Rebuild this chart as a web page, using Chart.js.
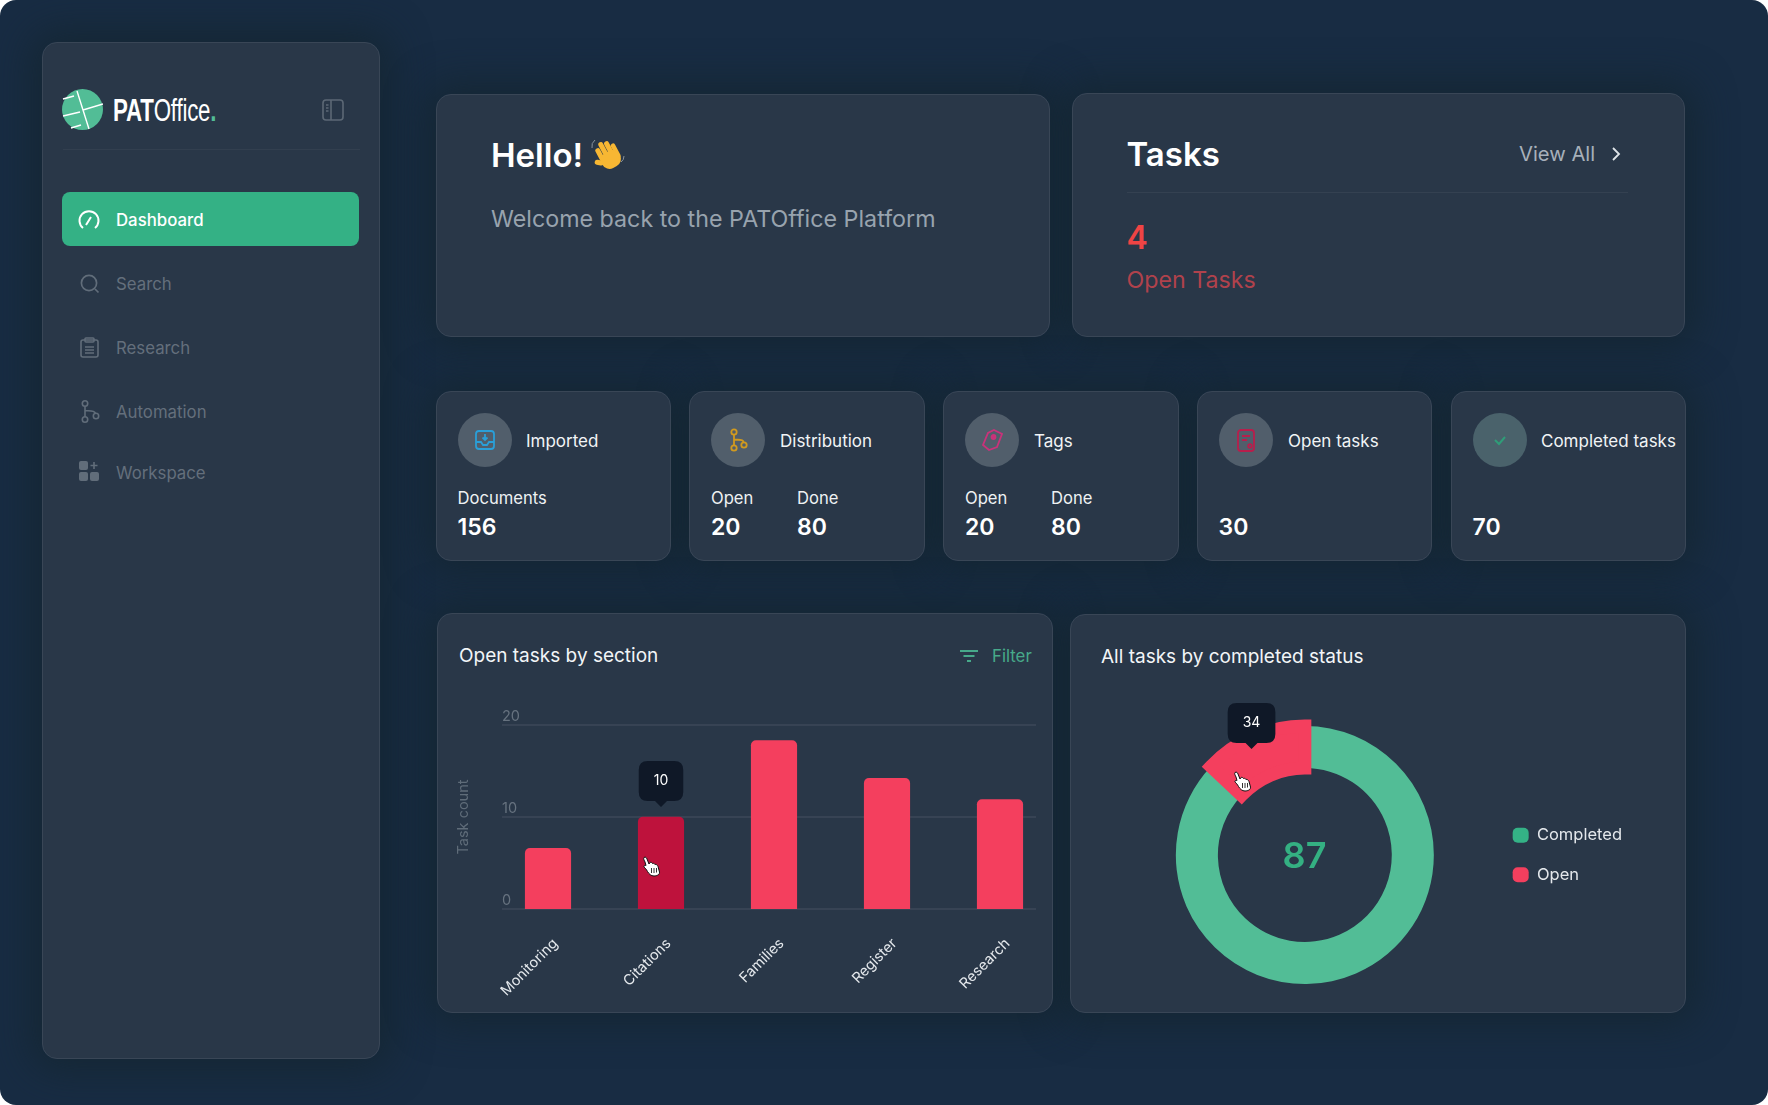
<!DOCTYPE html>
<html>
<head>
<meta charset="utf-8">
<title>PATOffice</title>
<script src="https://cdn.jsdelivr.net/npm/chart.js@4/dist/chart.umd.min.js"></script>
<style>
html,body{margin:0;padding:0;background:#fff;width:1768px;height:1105px;overflow:hidden}
body{font-family:Inter,"Noto Sans",sans-serif;color:#fff}
#page{position:absolute;left:0;top:0;width:1768px;height:1105px;background:#182c43;border-radius:16px;overflow:hidden}
.card{position:absolute;box-sizing:border-box;background:#293748;border:1px solid #394656;border-radius:15px}
.shade{position:absolute;border-radius:15px;box-shadow:0 0 38px 10px rgba(20,38,48,.8)}
.t{position:absolute;white-space:nowrap;line-height:1;transform:translateY(-50%)}
.nav{font-size:16.8px;color:#646f7c}
.ico{position:absolute}
.stat .c{position:absolute;left:21px;top:21px;width:54px;height:54px;border-radius:50%;background:#515e6b}
.stat .c svg{position:absolute;left:15px;top:15px}
.stat .h{left:89px;top:49px;font-size:17px;font-weight:400;color:#f1f4f6}
.stat .l{top:106px;font-size:16.6px;color:#eef1f3}
.stat .v{top:135px;font-size:23px;font-weight:600;color:#fff}
canvas{position:absolute}
</style>
</head>
<body>
<div id="page">

<!-- sidebar -->
<div class="card" style="left:42px;top:42px;width:338px;height:1017px"></div>
<svg class="ico" style="left:62px;top:89px" width="41" height="41" viewBox="0 0 41 41">
  <circle cx="20.5" cy="20.5" r="20.5" fill="#52bd96"/>
  <path d="M15 2L27 40M21 21L41 15M1 27L18 23M1 10L12 7M9 39L19 36" stroke="#fff" stroke-width="1.4" fill="none"/>
</svg>
<div class="t" style="left:113px;top:110px;font-family:'Liberation Sans';font-size:31px;letter-spacing:-.3px;transform-origin:left center;transform:translateY(-50%) scaleX(.72)"><b>PAT</b>Office<span style="color:#52bd96;font-weight:700">.</span></div>
<svg class="ico" style="left:322px;top:99px" width="22" height="22" viewBox="0 0 22 22" fill="none" stroke="#5c6875" stroke-width="1.6">
  <rect x="1" y="1" width="20" height="20" rx="3"/><path d="M9 1V21M4 6H6.500M4 9H6.500M4 12H6.500"/>
</svg>
<div style="position:absolute;left:63px;top:149px;width:297px;height:1px;background:#323f4f"></div>

<div style="position:absolute;left:62px;top:192px;width:297px;height:54px;border-radius:8px;background:#34b185"></div>
<svg class="ico" style="left:78px;top:209px" width="22" height="22" viewBox="0 0 22 22" fill="none" stroke="#fff" stroke-width="2">
  <path d="M5 19A9.500 9.500 0 1 1 17 19M8 16L13 8"/>
</svg>
<div class="t nav" style="left:116px;top:220px;color:#fff;font-weight:500">Dashboard</div>

<svg class="ico" style="left:80px;top:274px" width="20" height="20" viewBox="0 0 20 20" fill="none" stroke="#616d7a" stroke-width="1.7">
  <circle cx="9" cy="9" r="7.600"/><path d="M15 15L18.500 18.500"/>
</svg>
<div class="t nav" style="left:116px;top:284px">Search</div>

<svg class="ico" style="left:80px;top:337px" width="19" height="21" viewBox="0 0 19 21" fill="none" stroke="#616d7a" stroke-width="1.6">
  <rect x="1" y="3" width="17" height="17" rx="2"/><rect x="5" y="1" width="9" height="4" rx="1"/><path d="M5 10H14M5 13H14M5 16H14"/>
</svg>
<div class="t nav" style="left:116px;top:348px">Research</div>

<svg class="ico" style="left:80px;top:400px" width="20" height="23" viewBox="0 0 20 23" fill="none" stroke="#616d7a" stroke-width="1.600">
  <circle cx="5" cy="3.500" r="2.700"/><circle cx="5" cy="19.500" r="2.700"/><circle cx="16" cy="16" r="2.700"/><path d="M5 6.200V16.800M5 10C5 12 14 9 15.500 13.500"/>
</svg>
<div class="t nav" style="left:116px;top:412px">Automation</div>

<svg class="ico" style="left:79px;top:461px" width="21" height="21" viewBox="0 0 21 21" fill="#616d7a">
  <rect x="0" y="0" width="9" height="9" rx="2"/><rect x="0" y="11" width="9" height="9" rx="2"/><rect x="11" y="11" width="9" height="9" rx="2"/><path d="M15 1V8M11.500 4.500H18.500" stroke="#616d7a" stroke-width="1.600"/>
</svg>
<div class="t nav" style="left:116px;top:473px">Workspace</div>

<!-- top cards -->
<div class="card" style="left:436px;top:94px;width:614px;height:243px"></div>
<div class="t" style="left:491px;top:154.500px;font-size:33px;font-weight:600">Hello!</div>
<svg class="ico" style="left:590px;top:136px" width="36" height="36" viewBox="0 0 36 36">
  <g fill="#f7b733" transform="rotate(-28 18 20)">
    <rect x="9" y="8" width="5" height="18" rx="2.500"/><rect x="14.500" y="4" width="5" height="20" rx="2.500"/><rect x="20" y="6" width="5" height="20" rx="2.500"/><rect x="25" y="11" width="4.500" height="16" rx="2.200"/>
    <rect x="9" y="16" width="20" height="17" rx="8"/><rect x="3" y="19" width="9" height="5" rx="2.500" transform="rotate(40 7 21)"/>
  </g>
  <path d="M2 12Q1 7 5 4M31 26Q34 24 34 20" stroke="#8b949e" stroke-width="1" fill="none"/>
</svg>
<div class="t" style="left:491px;top:219px;font-size:23.25px;color:#98a3ae">Welcome back to the PATOffice Platform</div>

<div class="card" style="left:1072px;top:93px;width:613px;height:244px"></div>
<div class="t" style="left:1126.500px;top:154px;font-size:33px;font-weight:600">Tasks</div>
<div class="t" style="left:1519px;top:154px;font-size:20.200px;color:#a7b0ba">View All</div>
<svg class="ico" style="left:1610px;top:146px" width="12" height="16" viewBox="0 0 12 16" fill="none" stroke="#dfe4e8" stroke-width="1.800"><path d="M3 2L9 8L3 14"/></svg>
<div style="position:absolute;left:1127px;top:192px;width:501px;height:1px;background:#344151"></div>
<div class="t" style="left:1126.500px;top:238px;font-size:32px;font-weight:600;color:#ef4444">4</div>
<div class="t" style="left:1126.500px;top:280.500px;font-size:23.200px;color:#b0424c">Open Tasks</div>

<!-- stat cards -->
<div class="card stat" style="left:436px;top:391px;width:235px;height:170px">
  <div class="c"><svg width="24" height="24" viewBox="0 0 24 24" fill="none" stroke="#2a9fd8" stroke-width="1.800"><rect x="3" y="3" width="18" height="18" rx="3"/><path d="M3 14H8L10 17H14L16 14H21M12 6V12M9.500 9.500L12 12L14.500 9.500"/></svg></div>
  <div class="t h">Imported</div>
  <div class="t l" style="left:20.500px">Documents</div>
  <div class="t v" style="left:20.500px">156</div>
</div>
<div class="card stat" style="left:689px;top:391px;width:236px;height:170px">
  <div class="c"><svg width="24" height="24" viewBox="0 0 24 24" fill="none" stroke="#d19a1f" stroke-width="1.800"><circle cx="8" cy="4" r="2.700"/><circle cx="8" cy="20" r="2.700"/><circle cx="18" cy="17" r="2.700"/><path d="M8 7V17M8 11C8 13 17 10 17.500 14"/></svg></div>
  <div class="t h" style="left:90px">Distribution</div>
  <div class="t l" style="left:21px">Open</div>
  <div class="t v" style="left:21px">20</div>
  <div class="t l" style="left:107px">Done</div>
  <div class="t v" style="left:107px">80</div>
</div>
<div class="card stat" style="left:943px;top:391px;width:236px;height:170px">
  <div class="c"><svg width="24" height="24" viewBox="0 0 24 24" fill="none" stroke="#c9327a" stroke-width="1.800"><path d="M14 2L22 6L17 19L9 22L3 17L8 5Z"/><circle cx="13.500" cy="9" r="2" fill="#c9327a"/></svg></div>
  <div class="t h" style="left:90px">Tags</div>
  <div class="t l" style="left:21px">Open</div>
  <div class="t v" style="left:21px">20</div>
  <div class="t l" style="left:107px">Done</div>
  <div class="t v" style="left:107px">80</div>
</div>
<div class="card stat" style="left:1197px;top:391px;width:235px;height:170px">
  <div class="c"><svg width="24" height="24" viewBox="0 0 24 24" fill="none" stroke="#b81e4c" stroke-width="1.800"><rect x="4" y="2" width="16" height="21" rx="3"/><path d="M8 8H16M8 12H13"/><circle cx="16" cy="18" r="1.800"/></svg></div>
  <div class="t h" style="left:90px">Open tasks</div>
  <div class="t v" style="left:20.500px">30</div>
</div>
<div class="card stat" style="left:1451px;top:391px;width:235px;height:170px">
  <div class="c" style="background:#4a626b"><svg width="24" height="24" viewBox="0 0 24 24" fill="none" stroke="#2f9d78" stroke-width="2"><path d="M7 12L11 16L17 9"/></svg></div>
  <div class="t h">Completed tasks</div>
  <div class="t v" style="left:20.500px">70</div>
</div>

<!-- bar card -->
<div class="card" style="left:437px;top:613px;width:616px;height:400px"></div>
<div class="t" style="left:459px;top:655px;font-size:19px;font-weight:400;color:#f2f5f7">Open tasks by section</div>
<svg class="ico" style="left:960px;top:650px" width="18" height="12" viewBox="0 0 18 12" stroke="#47a98a" stroke-width="2"><path d="M0 1H18M3.500 6H14.500M7 11H11"/></svg>
<div class="t" style="left:992px;top:656px;font-size:16.800px;color:#47a98a">Filter</div>
<canvas id="barChart" style="left:437px;top:613px"></canvas>
<svg class="ico" style="left:641px;top:856px" width="20" height="21" viewBox="0 0 20 21"><path d="M3 1.500C4.500 .5 5.500 1.500 6 3L8 8L9 6.500C10 6 11 6.500 11.500 7.500C12.500 7 13.500 7.500 14 8.500C15 8 16.500 9 17 10.500L18.500 16C19 18.500 16 20 13 20C10 20 8 18 6.500 15.500C5.500 13.500 4 12 3 11C2.500 9.500 4 9 5 9.500L4 6C3.500 4.500 2 3 3 1.500Z" fill="#fff" stroke="#111" stroke-width="1"/><path d="M10.500 12V17M13 12V17M15.500 12V16.500" stroke="#333" stroke-width="1"/></svg>

<!-- donut card -->
<div class="card" style="left:1070px;top:614px;width:616px;height:399px"></div>
<div class="t" style="left:1101px;top:656px;font-size:19px;font-weight:400;color:#f2f5f7">All tasks by completed status</div>
<canvas id="donutChart" style="left:1120px;top:695px"></canvas>
<div class="t" id="centerValue" style="left:1304.500px;top:855px;font-size:36px;font-weight:600;color:#34b082;transform:translate(-50%,-50%)"></div>
<svg class="ico" style="left:1232px;top:771px" width="20" height="21" viewBox="0 0 20 21"><path d="M3 1.500C4.500 .5 5.500 1.500 6 3L8 8L9 6.500C10 6 11 6.500 11.500 7.500C12.500 7 13.500 7.500 14 8.500C15 8 16.500 9 17 10.500L18.500 16C19 18.500 16 20 13 20C10 20 8 18 6.500 15.500C5.500 13.500 4 12 3 11C2.500 9.500 4 9 5 9.500L4 6C3.500 4.500 2 3 3 1.500Z" fill="#fff" stroke="#111" stroke-width="1"/><path d="M10.500 12V17M13 12V17M15.500 12V16.500" stroke="#333" stroke-width="1"/></svg>

</div>

<script>
// chart data
const sections = ["Monitoring","Citations","Families","Register","Research"];
const openTasks = [6.6,10,18.3,14.2,11.9];
const taskTicks = [0,10,20];
const statusLabels = ["Completed","Open"];
const statusCounts = [228,34];

const fontName = "Inter";
Chart.defaults.font.family = fontName;
Chart.defaults.animation = false;

// card shadows go under every card, so a card never darkens its neighbour
const page = document.getElementById("page");
[...document.querySelectorAll(".card")].reverse().forEach(card=>{
  const s = document.createElement("div");
  s.className = "shade";
  s.style.cssText = `left:${card.style.left};top:${card.style.top};width:${card.style.width};height:${card.style.height}`;
  page.prepend(s);
});

// gridlines stop short of the chart area in the design
const shortGrid = {
  id:"shortGrid",
  beforeDatasetsDraw(chart){
    const c = chart.ctx, y = chart.scales.y;
    c.save();
    c.strokeStyle = "#3c4959";
    c.lineWidth = 1.5;
    y.ticks.forEach(t=>{
      const py = y.getPixelForValue(t.value);
      c.beginPath();
      c.moveTo(65,py);
      c.lineTo(599,py);
      c.stroke();
    });
    c.restore();
  }
};

const tooltipStyle = {
  backgroundColor:"#0f1827",
  bodyColor:"#fff",
  bodyFont:{family:fontName,size:14},
  bodyAlign:"center",
  displayColors:false,
  cornerRadius:9,
  padding:{x:15,y:11.6},
  caretSize:6,
  xAlign:"center",
  yAlign:"bottom",
  callbacks:{title:()=>"",label:ctx=>ctx.formattedValue}
};

// bars
const barCanvas = document.getElementById("barChart");
barCanvas.width = 625; barCanvas.height = 400;
barCanvas.style.width = "625px"; barCanvas.style.height = "400px";
const barChart = new Chart(barCanvas,{
  type:"bar",
  data:{labels:sections,datasets:[{
    data:openTasks,
    backgroundColor:"#f43f5e",
    hoverBackgroundColor:"#be123c",
    barThickness:45.5,
    borderSkipped:"bottom",
    borderRadius:{topLeft:5,topRight:5,bottomLeft:0,bottomRight:0}
  }]},
  options:{
    responsive:false,
    events:[],
    layout:{padding:{left:18,right:5.5,top:112,bottom:0}},
    plugins:{legend:{display:false},tooltip:{...tooltipStyle,caretPadding:10}},
    scales:{
      x:{
        grid:{display:false,drawTicks:false},
        border:{display:false},
        afterFit(s){ s.height = 104; },
        ticks:{autoSkip:false,minRotation:45,maxRotation:45,padding:26,labelOffset:7.5,color:"#e4e8ec",font:{size:14.5}}
      },
      y:{
        min:0,max:20,
        afterFit(s){ s.width = 36.5; },
        afterBuildTicks(s){ s.ticks = taskTicks.map(v=>({value:v})); },
        grid:{display:false,drawTicks:false},
        border:{display:false},
        title:{display:true,text:"Task count",color:"#5f6c79",font:{size:14.5},padding:0},
        ticks:{mirror:true,padding:10.5,labelOffset:-8.5,color:"#66727f",font:{size:14.5}}
      }
    }
  },
  plugins:[shortGrid]
});
const barActive = [{datasetIndex:0,index:1}];
barChart.setActiveElements(barActive);
barChart.tooltip.setActiveElements(barActive,{x:0,y:0});
barChart.update();

// donut
Chart.Tooltip.positioners.besideArc = function(items){
  if(!items.length) return false;
  const p = items[0].element.tooltipPosition();
  return {x:p.x-10.5,y:p.y};
};
const legendColors = ["#34b286","#f43f5e"];
const donutCanvas = document.getElementById("donutChart");
donutCanvas.style.width = "512px"; donutCanvas.style.height = "320px";
donutCanvas.width = 512; donutCanvas.height = 320;
const donutChart = new Chart(donutCanvas,{
  type:"doughnut",
  data:{labels:statusLabels,datasets:[{
    data:statusCounts,
    backgroundColor:["#52bd96","#f43f5e"],
    hoverBackgroundColor:["#52bd96","#f43f5e"],
    borderWidth:0,
    hoverBorderWidth:13,
    hoverBorderColor:["#52bd96","#f43f5e"],
    hoverBorderJoinStyle:"miter",
    hoverOffset:0
  }]},
  options:{
    responsive:false,
    events:[],
    cutout:"67.4%",
    layout:{padding:{top:31,bottom:31}},
    plugins:{
      legend:{
        position:"right",
        labels:{
          color:"#e4e8ec",
          font:{size:16.5},
          boxWidth:16,boxHeight:15,
          padding:23,
          useBorderRadius:true,borderRadius:5,
          generateLabels(chart){
            const items = Chart.overrides.doughnut.plugins.legend.labels.generateLabels(chart);
            items.forEach((it,i)=>{ it.fillStyle = legendColors[i]; it.lineWidth = 0; it.borderRadius = 5; });
            return items;
          }
        }
      },
      tooltip:{...tooltipStyle,position:"besideArc",caretPadding:7}
    }
  }
});
const donutActive = [{datasetIndex:0,index:1}];
donutChart.setActiveElements(donutActive);
donutChart.tooltip.setActiveElements(donutActive,{x:0,y:0});
donutChart.update();

// completed share in the middle of the ring
const allTasks = statusCounts.reduce((a,b)=>a+b,0);
document.getElementById("centerValue").textContent = Math.round(statusCounts[0]/allTasks*100);
</script>
</body>
</html>
